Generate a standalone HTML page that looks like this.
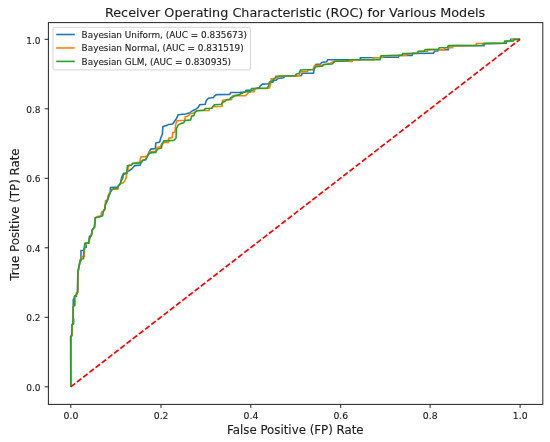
<!DOCTYPE html>
<html><head><meta charset="utf-8"><title>ROC</title>
<style>
html,body{margin:0;padding:0;background:#fff;}
svg{display:block;}
text{font-family:"DejaVu Sans","Liberation Sans",sans-serif;fill:#1c1c1c;stroke:#1c1c1c;stroke-width:0.12px;}
</style></head><body>
<svg width="550" height="442" viewBox="0 0 550 442">
<rect x="0" y="0" width="550" height="442" fill="#ffffff"/>
<defs><filter id="soft" x="0" y="0" width="550" height="442" filterUnits="userSpaceOnUse"><feGaussianBlur stdDeviation="0.45"/></filter></defs>
<g filter="url(#soft)">
<g fill="none" stroke-width="1.6" stroke-linejoin="miter" stroke-linecap="butt">
<polyline stroke="#1f77b4" points="70.8,386.8 70.8,336.6 71.8,335.6 72.0,324.7 73.6,323.8 73.6,319.0 73.1,318.2 73.2,306.7 73.3,299.6 74.5,298.0 74.6,296.6 76.4,296.4 76.6,294.2 77.4,292.0 77.6,288.0 77.8,274.0 78.5,269.1 79.6,263.6 81.0,260.0 81.0,250.5 83.8,250.5 84.9,247.5 86.2,247.3 86.3,243.3 88.8,242.9 89.4,236.4 91.3,235.3 92.4,229.8 94.5,227.1 95.3,217.8 101.4,216.2 101.6,212.4 103.3,211.3 104.7,209.1 105.5,204.2 107.6,200.3 109.0,195.6 110.3,192.4 110.5,187.4 117.4,187.1 118.5,185.8 120.4,183.6 121.0,180.4 121.7,177.6 123.6,173.3 126.6,173.3 127.7,171.6 131.0,169.5 133.2,167.3 134.8,165.6 140.3,165.1 141.2,161.8 143.0,160.2 145.7,159.6 147.6,155.6 149.3,151.3 150.9,149.1 155.3,148.5 155.8,143.1 159.6,142.0 160.7,138.2 162.4,133.8 162.9,126.7 166.2,125.6 168.4,124.5 172.7,124.0 174.9,120.7 176.5,118.5 178.2,114.7 185.4,114.0 189.9,112.9 191.5,111.3 193.7,110.2 195.9,109.1 198.1,107.5 199.7,104.7 205.2,104.2 206.3,100.4 208.5,98.2 213.4,97.6 214.5,96.0 216.6,94.6 229.7,94.4 230.8,92.5 240.0,92.4 244.9,92.0 246.0,90.4 253.6,90.0 255.3,88.7 259.1,87.6 260.2,86.0 262.4,84.1 268.9,83.8 270.0,82.2 272.7,82.2 273.8,80.5 276.0,80.2 278.2,78.4 283.6,77.8 284.7,76.2 295.1,75.8 301.5,75.5 302.1,73.3 313.5,73.3 314.1,69.5 315.7,64.5 320.6,64.0 321.7,62.4 326.6,61.8 327.7,59.7 349.0,59.7 360.2,59.6 360.4,57.7 379.5,57.5 382.7,57.2 398.5,57.2 399.1,55.4 412.1,55.4 412.6,53.4 433.4,53.3 434.5,51.3 437.7,51.1 438.3,49.8 448.4,49.8 448.6,45.7 484.0,45.6 484.2,43.6 506.2,43.3 506.4,41.4 510.5,41.3 510.7,39.4 520.1,39.3"/>
<polyline stroke="#ff7f0e" points="70.8,386.8 70.5,336.6 71.8,335.6 72.0,324.7 72.9,323.6 73.1,318.2 73.3,306.7 75.2,305.1 75.3,302.0 74.6,296.4 76.1,295.0 76.3,293.0 77.7,292.0 77.8,274.0 78.5,269.1 79.6,263.6 80.5,259.3 81.8,257.0 84.3,256.5 84.5,250.5 85.2,245.0 86.2,244.5 86.4,243.2 88.8,242.9 89.9,238.0 91.6,235.3 92.4,229.8 94.5,227.1 95.3,217.8 97.8,216.2 101.5,216.0 101.6,212.9 103.6,211.3 105.1,209.1 105.3,204.2 105.5,200.9 107.3,200.2 108.3,195.6 110.0,192.4 111.9,189.8 114.1,189.0 117.9,189.1 118.5,185.8 120.6,183.6 122.8,183.0 124.5,181.5 126.2,177.6 126.8,173.3 128.4,167.3 128.8,165.4 131.5,165.1 132.6,163.5 139.7,162.4 140.8,156.9 146.8,156.4 148.7,154.0 149.8,151.8 155.3,151.3 156.9,147.5 160.2,146.9 161.8,143.6 164.5,142.4 168.4,142.4 168.9,138.2 172.2,137.6 172.7,132.7 174.9,132.2 175.8,124.0 177.1,120.7 184.7,120.2 185.3,116.8 187.7,116.2 189.9,114.0 191.5,113.5 194.3,112.9 195.2,112.0 196.9,110.8 204.1,110.2 205.6,110.5 209.0,110.4 209.5,108.4 211.7,108.3 212.8,106.8 222.1,106.3 222.6,100.4 224.3,100.0 230.8,99.8 231.4,99.6 232.5,96.0 234.1,95.6 239.0,95.8 245.5,95.8 247.6,93.6 248.7,92.0 254.2,91.7 254.7,89.3 256.0,88.5 267.3,88.5 269.5,87.9 270.5,84.4 271.1,78.9 274.9,78.2 278.2,77.5 279.0,76.3 296.7,76.1 299.4,75.6 299.9,71.8 307.5,71.7 308.0,69.7 313.3,69.5 313.5,67.8 314.6,65.6 321.2,65.6 323.9,64.5 327.5,64.3 327.7,63.5 329.9,63.5 333.2,61.8 334.8,61.3 347.9,60.9 349.3,61.5 352.2,61.5 352.5,59.8 373.3,59.7 373.5,57.8 379.5,57.8 380.5,57.2 383.8,57.0 384.2,55.8 401.8,55.4 406.6,55.3 407.0,53.6 417.3,53.3 417.5,51.8 424.1,51.3 427.4,51.2 427.8,49.6 438.3,49.6 444.3,49.7 444.7,47.7 452.5,47.6 452.9,45.6 476.2,45.5 476.4,43.5 504.2,43.2 504.7,41.3 511.6,41.2 511.8,39.5 520.1,39.3"/>
<polyline stroke="#2ca02c" points="70.8,386.8 70.8,336.6 71.8,335.6 72.0,324.7 72.9,323.6 73.1,318.2 73.3,306.7 74.2,305.1 74.5,296.4 75.8,295.3 76.6,294.2 77.7,292.0 77.8,274.0 78.5,269.1 79.6,263.6 80.5,259.3 83.5,258.7 83.8,250.5 84.9,243.3 88.8,242.9 89.6,238.0 91.3,235.3 92.4,229.8 94.5,227.1 95.3,217.8 101.6,216.2 102.7,215.6 103.3,211.3 104.7,209.1 105.5,204.2 107.3,200.3 108.6,195.6 110.3,192.4 111.9,189.6 114.1,188.5 117.4,188.0 118.5,185.8 120.6,183.6 121.2,180.9 122.8,178.2 123.4,174.4 126.6,173.3 127.5,165.6 131.5,165.1 132.6,163.5 139.7,162.9 141.9,161.8 143.0,160.2 145.3,159.7 146.5,157.8 148.7,154.0 150.4,152.9 155.8,152.4 157.5,149.1 161.3,148.0 162.4,143.6 164.0,140.9 173.8,140.4 176.0,138.2 176.5,128.4 178.2,125.1 180.9,123.5 183.6,122.9 185.0,120.5 190.6,119.9 191.7,116.2 193.9,115.5 195.0,112.2 196.9,110.8 204.1,110.2 205.2,108.5 211.7,108.3 212.8,106.6 214.5,104.7 221.5,104.2 222.6,102.2 224.8,101.5 226.5,99.8 229.7,99.3 230.8,97.6 233.5,96.8 235.2,95.5 239.0,94.9 240.6,93.8 242.2,93.6 243.8,92.0 250.4,91.5 251.5,88.5 267.3,88.0 268.6,86.0 269.5,82.2 272.2,81.1 273.3,79.5 274.9,78.4 276.0,76.2 295.1,75.8 296.4,73.9 299.2,73.4 300.5,70.0 313.5,69.5 315.7,66.7 322.3,66.2 323.9,64.5 332.1,64.0 333.7,62.4 334.8,61.3 347.9,60.9 349.0,59.8 380.0,59.6 381.1,55.8 401.8,55.3 402.9,53.6 417.5,53.2 418.6,51.3 424.1,51.1 425.2,49.6 438.3,49.3 439.4,47.8 447.5,47.5 448.6,45.6 482.9,45.3 483.5,43.5 504.2,43.1 504.7,41.3 513.5,40.9 514.0,39.4 520.1,39.3"/>
</g>
<line x1="70.8" y1="386.8" x2="520.1" y2="39.3" stroke="#ff0000" stroke-width="1.7" stroke-dasharray="5.55 2.28"/>
<rect x="48.4" y="22.6" width="494.4" height="381.8" fill="none" stroke="#222" stroke-width="1.0"/>
<line x1="70.8" y1="404.35" x2="70.8" y2="407.95000000000005" stroke="#222" stroke-width="1.0"/>
<line x1="48.4" y1="386.8" x2="44.6" y2="386.8" stroke="#222" stroke-width="1.0"/>
<text transform="translate(70.90,418.90) scale(1.0,1)" font-size="9.3" text-anchor="middle">0.0</text>
<text transform="translate(40.55,390.70) scale(0.97,1)" font-size="9.3" text-anchor="end">0.0</text>
<line x1="161.0" y1="404.35" x2="161.0" y2="407.95000000000005" stroke="#222" stroke-width="1.0"/>
<line x1="48.4" y1="317.3" x2="44.6" y2="317.3" stroke="#222" stroke-width="1.0"/>
<text transform="translate(161.11,418.90) scale(1.0,1)" font-size="9.3" text-anchor="middle">0.2</text>
<text transform="translate(40.55,321.20) scale(0.97,1)" font-size="9.3" text-anchor="end">0.2</text>
<line x1="250.8" y1="404.35" x2="250.8" y2="407.95000000000005" stroke="#222" stroke-width="1.0"/>
<line x1="48.4" y1="247.8" x2="44.6" y2="247.8" stroke="#222" stroke-width="1.0"/>
<text transform="translate(250.92,418.90) scale(1.0,1)" font-size="9.3" text-anchor="middle">0.4</text>
<text transform="translate(40.55,251.70) scale(0.97,1)" font-size="9.3" text-anchor="end">0.4</text>
<line x1="340.7" y1="404.35" x2="340.7" y2="407.95000000000005" stroke="#222" stroke-width="1.0"/>
<line x1="48.4" y1="178.3" x2="44.6" y2="178.3" stroke="#222" stroke-width="1.0"/>
<text transform="translate(340.83,418.90) scale(1.0,1)" font-size="9.3" text-anchor="middle">0.6</text>
<text transform="translate(40.55,182.20) scale(0.97,1)" font-size="9.3" text-anchor="end">0.6</text>
<line x1="430.1" y1="404.35" x2="430.1" y2="407.95000000000005" stroke="#222" stroke-width="1.0"/>
<line x1="48.4" y1="108.8" x2="44.6" y2="108.8" stroke="#222" stroke-width="1.0"/>
<text transform="translate(430.24,418.90) scale(1.0,1)" font-size="9.3" text-anchor="middle">0.8</text>
<text transform="translate(40.55,112.70) scale(0.97,1)" font-size="9.3" text-anchor="end">0.8</text>
<line x1="520.1" y1="404.35" x2="520.1" y2="407.95000000000005" stroke="#222" stroke-width="1.0"/>
<line x1="48.4" y1="39.3" x2="44.6" y2="39.3" stroke="#222" stroke-width="1.0"/>
<text transform="translate(520.20,418.90) scale(1.0,1)" font-size="9.3" text-anchor="middle">1.0</text>
<text transform="translate(40.55,43.65) scale(0.97,1)" font-size="9.3" text-anchor="end">1.0</text>
<text transform="translate(295.10,16.60) scale(1.0,1)" font-size="12.8" text-anchor="middle">Receiver Operating Characteristic (ROC) for Various Models</text>
<text transform="translate(295.30,433.80) scale(1.0,1)" font-size="11.8" text-anchor="middle">False Positive (FP) Rate</text>
<text transform="translate(19.1,214.6) rotate(-90)" font-size="11.8" text-anchor="middle">True Positive (TP) Rate</text>
<rect x="53.0" y="27.3" width="197.5" height="42.6" rx="1.8" ry="1.8" fill="#ffffff" fill-opacity="0.8" stroke="#cccccc" stroke-width="0.85"/>
<line x1="56.2" y1="34.50" x2="74.8" y2="34.50" stroke="#1f77b4" stroke-width="1.6"/>
<text transform="translate(81.60,37.70) scale(1.0,1)" font-size="8.88" text-anchor="start">Bayesian Uniform, (AUC = 0.835673)</text>
<line x1="56.2" y1="47.95" x2="74.8" y2="47.95" stroke="#ff7f0e" stroke-width="1.6"/>
<text transform="translate(81.60,51.15) scale(1.0,1)" font-size="8.88" text-anchor="start">Bayesian Normal, (AUC = 0.831519)</text>
<line x1="56.2" y1="61.40" x2="74.8" y2="61.40" stroke="#2ca02c" stroke-width="1.6"/>
<text transform="translate(81.60,64.60) scale(1.0,1)" font-size="8.88" text-anchor="start">Bayesian GLM, (AUC = 0.830935)</text>
</g></svg></body></html>
